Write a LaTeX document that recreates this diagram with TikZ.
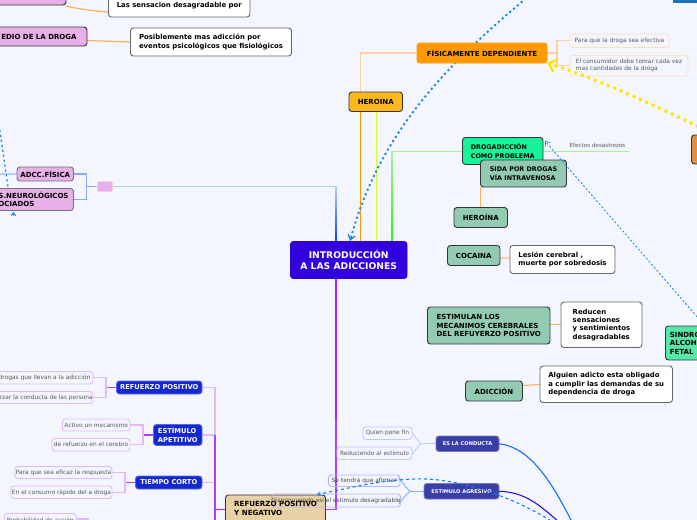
\documentclass[tikz,border=0pt]{standalone}
\usepackage{fontspec}
\setmainfont{DejaVu Sans}
\usetikzlibrary{arrows.meta,calc}
\pgfdeclarelayer{bg}\pgfdeclarelayer{conn}\pgfdeclarelayer{top}
\pgfsetlayers{bg,conn,main,top}
\definecolor{pagebg}{HTML}{F3F6FF}
\definecolor{pinkf}{HTML}{E8B0E8}
\definecolor{teal}{HTML}{93CBB0}
\definecolor{royal}{HTML}{1428D0}
\definecolor{indigo}{HTML}{3A3FA8}
\definecolor{edgedark}{HTML}{33333C}
\definecolor{orangeln}{HTML}{FFB050}
\definecolor{paleor}{HTML}{FFCFA0}
\definecolor{palepur}{HTML}{E2B8FF}
\definecolor{midpur}{HTML}{B040FF}
\definecolor{trunkpur}{HTML}{AE1FFF}
\definecolor{dotblue}{HTML}{1580F0}
\definecolor{tanbox}{HTML}{E8D2A5}
\definecolor{centrefill}{HTML}{3100DC}
\definecolor{herofill}{HTML}{FFB81C}
\definecolor{fisfill}{HTML}{FF9900}
\definecolor{drogafill}{HTML}{14F59A}
\definecolor{sindfill}{HTML}{55E8A8}
\definecolor{brownfill}{HTML}{DE9040}
\definecolor{bluefill}{HTML}{2070B8}
\definecolor{hublight}{HTML}{B4CCFF}
\definecolor{forkblue}{HTML}{88AAFF}
\definecolor{softblue}{HTML}{BBCCFF}
\definecolor{softind}{HTML}{B4B4FF}
\definecolor{limeln}{HTML}{D0FF30}
\definecolor{greenln}{HTML}{A8F0A0}
\newcommand{\bx}[7]{%
  \pgfmathsetmacro\bxw{#5-#3}\pgfmathsetmacro\bxh{#6-#4}%
  \pgfmathsetmacro\bxcx{(#3+#5)/2}\pgfmathsetmacro\bxcy{(#4+#6)/2}%
  \node[#1,minimum width=\bxw pt,minimum height=\bxh pt] (#2) at (\bxcx,\bxcy) {#7};}
\tikzset{
  base/.style={rounded corners=3pt,align=left,inner sep=0pt,outer sep=0pt,line width=.9pt,draw=edgedark,text=black,font=\fontsize{7}{8.4}\selectfont\bfseries},
  narrowcaps/.style={font=\fontsize{6.4}{8.4}\selectfont\bfseries},
  pinkbox/.style={base,fill=pinkf},
  pinksoft/.style={pinkbox,draw=gray!90!black},
  whitebox/.style={base,fill=white,draw=gray!80!black,font=\fontsize{6.9}{8.4}\selectfont\bfseries},
  tealbox/.style={base,fill=teal},
  bluebox/.style={base,fill=royal,draw=royal!70,text=white,font=\fontsize{6.7}{8.2}\selectfont\bfseries},
  indbox/.style={base,fill=indigo,draw=indigo!70,text=white,font=\fontsize{5.1}{6}\selectfont\bfseries},
  smallor/.style={base,fill=none,draw=paleor!70,text=black!65,font=\fontsize{5.9}{7}\selectfont\mdseries},
  smallpur/.style={base,fill=pagebg,draw=palepur,text=black!65,font=\fontsize{5.9}{7}\selectfont\mdseries},
  smallblue/.style={base,fill=pagebg,draw=softblue,text=black!65,font=\fontsize{5.9}{7}\selectfont\mdseries},
  smallind/.style={base,fill=none,draw=softind,text=black!70,font=\fontsize{5.9}{7}\selectfont\mdseries},
  wire/.style={line width=1.1pt},
  dotline/.style={dotblue,line width=1.9pt,dash pattern=on 2pt off 3pt},
  thindot/.style={dotblue,line width=.8pt,dash pattern=on 2pt off 2pt},
}
\begin{document}
\begin{tikzpicture}[x=1pt,y=-1pt]
\useasboundingbox (0,0) rectangle (697,520);
\begin{pgfonlayer}{bg}\fill[pagebg] (0,0) rectangle (697,520);\end{pgfonlayer}

% upper left
\bx{pinkbox}{topPink}{-30}{-25}{66}{5}{}
\bx{whitebox}{sens}{108.5}{-5}{250}{17}{Las sensacion desagradable por}
\bx{pinkbox}{medio}{-9}{27}{87}{46}{EDIO DE LA DROGA}
\bx{whitebox}{posib}{130.5}{28}{291.5}{56}{Posiblemente mas adicción por\\eventos psicológicos que fisiológicos}
\bx{pinksoft}{fisica}{17}{167}{73.5}{181}{ADCC.FÍSICA}
\bx{pinksoft}{neuro}{-6.5}{188.5}{73.5}{210.5}{S.NEUROLÓGICOS\\OCIADOS}
\bx{fill=pinkf,draw=white,line width=.8pt,rounded corners=1pt,outer sep=0pt}{hub}{97}{181}{113}{192}{}

% centre
\bx{base,fill=centrefill,draw=centrefill,text=white,align=center,font=\fontsize{9.2}{11.4}\selectfont\bfseries}{centre}{290.5}{241.5}{407}{278.5}{INTRODUCCIÓN\\A LAS ADICCIONES}

% upper right
\bx{base,fill=herofill}{heroina}{349}{92}{402.5}{111.5}{HEROINA}
\bx{base,fill=fisfill,draw=fisfill}{fisdep}{417}{43}{547}{63}{FÍSICAMENTE DEPENDIENTE}
\bx{smallor}{para}{570}{34}{669}{47.5}{Para que la droga sea efectiva}
\bx{smallor}{consum}{570}{55.5}{688}{76}{El consumidor debe tomar cada vez\\mas cantidades de la droga}
\bx{base,narrowcaps,fill=drogafill}{droga}{462.5}{137.5}{543}{164.5}{DROGADICCIÓN\\COMO PROBLEMA}
\node[text=black!65,font=\fontsize{5.6}{6}\selectfont,inner sep=0pt] (efectos) at (597.5,145.5) {Efectos desastrozos};
\bx{tealbox,narrowcaps}{sida}{480.5}{160}{566.5}{187}{SIDA POR DROGAS\\VÍA INTRAVENOSA}
\bx{tealbox}{heroin2}{454}{207.5}{507.5}{227.5}{HEROÍNA}
\bx{tealbox}{cocaina}{447.5}{245.5}{500}{265.5}{COCAINA}
\bx{whitebox}{lesion}{510}{245.5}{615}{273.5}{Lesión cerebral ,\\muerte por sobredosis}
\bx{tealbox}{estim}{427.5}{307}{550}{344}{ESTIMULAN LOS\\MECANIMOS CEREBRALES\\DEL REFUYERZO POSITIVO}
\bx{whitebox}{reducen}{561}{302}{642}{347.5}{Reducen\\sensaciones\\y sentimientos\\desagradables}
\bx{tealbox}{adiccion}{465.5}{381}{522.5}{401}{ADICCIÓN}
\bx{whitebox}{alguien}{540}{366}{672.5}{402.5}{Alguien adicto esta obligado\\a cumplir las demandas de su\\dependencia de droga}
\bx{base,fill=sindfill,align=left}{sindrome}{665.5}{326}{705}{360}{SINDRO\\ALCOH\\FETAL}
\bx{base,fill=brownfill}{brownR}{691.5}{135}{730}{164}{}
\bx{fill=bluefill,draw=none,outer sep=0pt}{blueTop}{673}{-20}{730}{3}{}

% lower left
\bx{base,fill=tanbox}{refu}{225.5}{495}{325.5}{540}{}
\bx{bluebox}{refpos}{116.5}{381}{202}{394}{REFUERZO POSITIVO}
\bx{bluebox}{apet}{153.5}{424.5}{202}{445.5}{ESTÍMULO\\APETITIVO}
\bx{bluebox}{tiempo}{135.5}{476}{202}{489}{TIEMPO  CORTO}
\bx{smallpur}{s1}{-4}{371.5}{93}{384}{drogas que llevan a la adicción}
\bx{smallpur}{s2}{-4}{391.5}{93}{403.5}{orzar la conducta de las persona}
\bx{smallpur}{s3}{62.5}{419}{130}{431}{Activo un mecanismo}
\bx{smallpur}{s4}{52}{438.5}{130}{451}{de refuerzo en el cerebro}
\bx{smallpur}{s5}{15}{466.5}{112}{478.5}{Para que sea eficaz la respuesta}
\bx{smallpur}{s6}{11}{486}{112}{498.5}{En el consumo rápido del a droga}
\bx{smallpur}{s7}{4.5}{513.5}{76}{526}{Probabilidad de acción}

% lower right
\bx{indbox}{conducta}{436}{436}{499}{451.5}{ES LA CONDUCTA}
\bx{indbox}{agres}{424}{483.5}{499}{499}{ESTIMULO AGRESIVO}
\bx{smallblue}{quien}{363}{427}{412}{439.5}{Quien pone fin}
\bx{smallblue}{reduc}{337}{447}{412}{459.5}{Reduciendo  al estimulo}
\bx{smallind}{setend}{328.5}{475}{400}{486.5}{Se tendrá que afirmar}
\bx{smallind}{dismi}{272}{494}{400}{507}{Disminuyendo así el estimulo desagradable}
\node[anchor=north west,inner sep=0pt,align=left,font=\fontsize{7.1}{9}\selectfont\bfseries] (refutxt) at (234,501) {REFUERZO POSITIVO\\Y NEGATIVO};

% named free ends and forks
\coordinate (cPink) at (336,241.5);
\coordinate (cOrange) at (360.5,241.5);
\coordinate (cLime) at (376.5,241.5);
\coordinate (cGreen) at (392,241.5);
\coordinate (cArc) at (350,241);
\coordinate (heroTop) at (360.5,92);
\coordinate (heroBot) at (360.5,111.5);
\coordinate (limeBot) at (376.5,111.5);
\coordinate (lineEnd) at (629,151.5);
\coordinate (dropeL) at (543,151.5);
\coordinate (dropeG) at (462.5,151.5);
\coordinate (leftOff) at (0,174);
\coordinate (fork1) at (86.5,186.5);
\coordinate (topArc) at (530,-5);
\coordinate (yellowOff) at (705,130);
\coordinate (thinOff) at (705,326);
\coordinate (leftDot) at (-1,125);
\coordinate (leftTip) at (13.5,212);
\coordinate (refuL) at (225.5,509.5);
\coordinate (refuR) at (325.5,509.5);
\coordinate (trunkB) at (336,509.5);
\coordinate (spine) at (215,509.5);
\coordinate (spineEnd) at (215,525);
\coordinate (spineMid) at (215,435);
\coordinate (blueEnd1) at (573,524);
\coordinate (blueEnd2) at (561,524);
\coordinate (dashEnd) at (556,524);
\coordinate (dashTip) at (317,494.5);
\coordinate (s7stub) at (89,519);

\begin{pgfonlayer}{conn}
% upper left
\draw[orangeln,line width=1.2pt] (topPink.south east) ++(0,1) .. controls +(20,5) and +(25,7) .. (sens.west |- 0,8.5);
\draw[orangeln,line width=1.2pt] (medio.east |- 0,40.5) -- (posib.west |- 0,42);
\draw[hublight,wire] (leftOff) -- (fisica.west);
\draw[forkblue,wire] (fisica.east) -| (fork1) |- (neuro.east |- 0,199.5);
\draw[forkblue,line width=1.5pt] (hub.west) -- (fork1);
\draw[hublight,line width=1.3pt] (hub.east) -| (cPink);
\shade[top color=hublight,bottom color=blue!75!cyan] (335.3,186.5) rectangle (336.7,241.5);
\draw[dotline,line width=1.3pt,-{Straight Barb[length=3pt,width=5pt,line width=.8pt]}] (leftDot) .. controls (3,150) and (13,228) .. (leftTip);
% trunks up
\draw[paleor,wire] (fisdep.west) -| (heroTop);
\draw[fisfill,line width=1.5pt] (heroBot) -- (cOrange);
\draw[limeln,line width=1.5pt] (limeBot) -- (cLime);
\draw[greenln,wire] (dropeG) -| (cGreen);
\shade[top color=greenln,bottom color=green!90!yellow] (391.2,151.5) rectangle (392.8,241.5);
\draw[paleor,wire] (fisdep.east) -- ++(10,0) coordinate (forkF);
\draw[paleor,wire] (forkF) |- (para.west);
\draw[paleor,wire] (forkF) |- (consum.west);
\draw[greenln,wire] (dropeL) -- (lineEnd);
\draw[orangeln,line width=1.4pt] (sida.south west) -- (sida.south west |- heroin2.north);
\draw[paleor,line width=1.4pt] (cocaina.east |- 0,258) -- (lesion.west |- 0,258);
\draw[orangeln,wire] (estim.east |- 0,324.5) -- (reducen.west |- 0,324.5);
\draw[orangeln,line width=1.1pt] (adiccion.east |- 0,385.5) -- (alguien.west |- 0,384.5);
% long dotted arc
\draw[dotline,-{Straight Barb[length=5pt,width=7pt,line width=1.2pt]}] (topArc) .. controls (450,62) and (380,130) .. (cArc);
% purple trunk
\draw[trunkpur,line width=1.6pt] (centre.south -| cPink) -- (336,420);
\draw[midpur,wire] (336,420) -- (trunkB) -- (refuR);
\draw[palepur,line width=1.3pt] (refpos.east) -| (spineMid);
\draw[palepur,line width=1.3pt] (tiempo.east) -- (215,482.5);
\draw[palepur,line width=1.3pt] (apet.east) -- (spineMid);
\draw[midpur,line width=1.3pt] (spineMid) -- (spineEnd);
\draw[trunkpur,line width=1.4pt] (spine) -- (refuL);
% purple forks
\foreach \hub/\a/\b/\fx in {refpos/s1/s2/106, apet/s3/s4/143, tiempo/s5/s6/125}{
  \draw[midpur,line width=1.2pt] (\hub.west) -- (\hub.west -| \fx,0);
  \draw[palepur,wire] (\a.east) -| (\fx,0 |- \hub.west) |- (\b.east);
}
\draw[palepur,wire] (s7.east |- s7stub) -- (s7stub);
% blue forks
\draw[softblue,line width=.9pt] (conducta.west) -- ++(-14,0) coordinate (fA);
\draw[softblue,line width=.9pt] (fA) .. controls +(-4,0) and +(-5,-10) .. (quien.east);
\draw[softblue,line width=.9pt] (fA) .. controls +(-4,0) and +(-5,10) .. (reduc.east);
\draw[forkblue,line width=.9pt] (agres.west) -- ++(-13,0) coordinate (fB);
\draw[forkblue,line width=.9pt] (fB) .. controls +(-4,0) and +(-5,-10) .. (setend.east);
\draw[forkblue,line width=.9pt] (fB) .. controls +(-4,0) and +(-5,10) .. (dismi.east);
% curves from the two indigo boxes
\draw[blue!65!cyan!90,line width=1.1pt] (conducta.east) .. controls (530,447) and (552,482) .. (blueEnd1);
\draw[blue!85!violet,line width=1pt] (agres.east) .. controls (525,492) and (540,505) .. (blueEnd2);
\end{pgfonlayer}

\begin{pgfonlayer}{top}
\draw[yellow!90!orange,line width=3pt,dash pattern=on 3pt off 4pt,-{Straight Barb[length=7pt,width=13pt,line width=2.5pt]}] (yellowOff) .. controls (650,103) and (600,80) .. (fisdep.south east);
\draw[thindot,-{Straight Barb[length=4pt,width=6pt,line width=.7pt]}] (thinOff) -- (545,141);
\draw[dotblue,line width=1.1pt,dash pattern=on 3pt off 3pt,-{Straight Barb[length=3pt,width=4pt,line width=.7pt]}] (dashEnd) .. controls (520,500) and (460,477) .. (415,479) .. controls (380,480) and (350,488) .. (dashTip);
\end{pgfonlayer}
\end{tikzpicture}
\end{document}
